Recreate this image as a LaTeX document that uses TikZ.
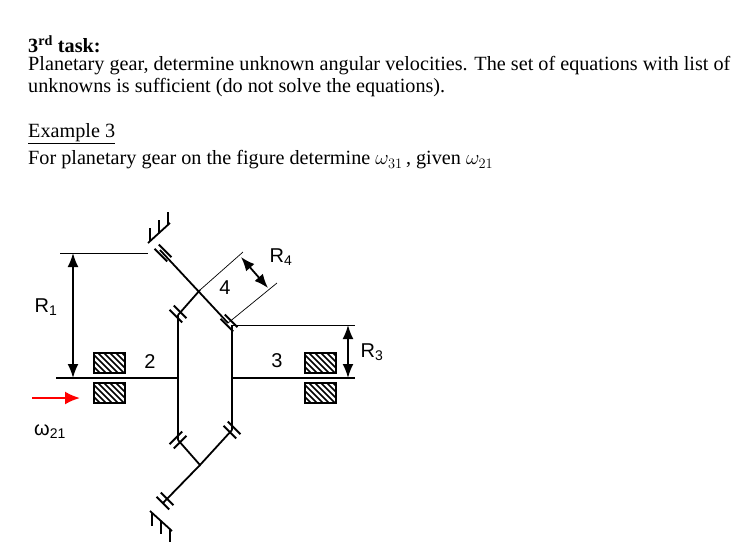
\documentclass[tikz,border=0pt]{standalone}
\usepackage{fontspec}
\setmainfont{Liberation Serif}
\newfontfamily\lsans{Liberation Sans}
\usetikzlibrary{arrows.meta,calc}
\tikzset{
 mech/.style={line width=1.8pt},
 thin/.style={line width=0.7pt},
 dim/.style={line width=1.8pt,{Latex[length=14pt,width=11pt]}-{Latex[length=14pt,width=11pt]}},
 lab/.style={font=\lsans\fontsize{20}{20}\selectfont,inner sep=0pt},
 txt/.style={font=\fontsize{20.2}{22}\selectfont,anchor=west,inner sep=0pt}
}
\newcommand{\gteeth}[3]{\begin{scope}[shift={(#1,#2)},rotate=#3]
 \draw[mech] (-9,-3)--(9,-3); \draw[mech] (-9,3)--(9,3);\end{scope}}
\newcommand{\bearing}[2]{\begin{scope}[shift={(#1,#2)}]
 \clip (0,0) rectangle (31,20);
 \foreach \k in {-20,-14,...,40}{\draw[line width=1.6pt] (\k,0)--(\k+20,20);}
 \end{scope}\draw[line width=1.8pt] (#1,#2) rectangle ++(31,20);}
\begin{document}
\begin{tikzpicture}[x=1pt,y=-1pt]
\useasboundingbox (0,0) rectangle (749,558);
% texts
\node[txt] (t1) at (28,44) {\textbf{3\textsuperscript{rd} task:}};
\node[txt] (t2) at (28,66) {Planetary gear, determine unknown angular velocities. The set of equations with list of};
\node[txt] (t3) at (28,88) {unknowns is sufficient (do not solve the equations).};
\node[txt] (t4) at (28,134) {\underline{Example 3}};
\node[txt] (t5) at (28,160) {For planetary gear on the figure determine $\omega_{31}$\,, given $\omega_{21}$};
% shafts
\draw[mech] (56,378)--(178,378);
\draw[mech] (232,378)--(355,378);
\draw[mech] (178,315)--(178,440);
\draw[mech] (232,325)--(232,430);
% planet
\draw[mech] (160,250)--(228,323);
\draw[mech] (178,315)--(200,290);
\draw[mech] (178,440)--(200,465)--(232,430);
\draw[mech] (200,465)--(163,503);
\gteeth{178}{314}{-45}
\gteeth{229}{323}{-45}
\gteeth{163}{253}{-45}
\gteeth{178}{440}{45}
\gteeth{232}{430}{-45}
\gteeth{165}{501}{-45}
% ring gear top
\draw[mech] (148,243)--(170,223);
\foreach \p in {0.1,0.5,0.9}{\draw[mech] ($(148,243)!\p!(170,223)$) -- ++(0,-13);}
% ring gear bottom
\draw[mech] (150,511)--(172,531);
\foreach \p in {0.1,0.5,0.9}{\draw[mech] ($(150,511)!\p!(172,531)$) -- ++(0,13);}
% bearings
\bearing{94}{353}
\bearing{94}{383}
\bearing{305}{353}
\bearing{305}{383}
% dimensions
\draw[thin] (60,253)--(148,253);
\draw[dim] (73,253)--(73,378);
\draw[thin] (232,325)--(355,325);
\draw[dim] (348,325)--(348,378);
\draw[thin] (200,290)--(243,252);
\draw[thin] (228,323)--(277,283);
\draw[dim] (241,257)--(268,288);
% labels
\node[lab] (r1) at (46,307) {R\textsubscript{1}};
\node[lab] (r3) at (372,352) {R\textsubscript{3}};
\node[lab] (r4) at (281,257) {R\textsubscript{4}};
\node[lab] (n4) at (225,288) {4};
\node[lab] (n2) at (150,362) {2};
\node[lab] (n3) at (277,361) {3};
\coordinate (a0) at (32,398);
\coordinate (a1) at (80,398);
\draw[red,line width=2.2pt,-{Latex[length=15pt,width=13pt]}] (a0)--(a1);
\node[lab] (w) at (50,432) {ω\textsubscript{21}};
\end{tikzpicture}
\end{document}
